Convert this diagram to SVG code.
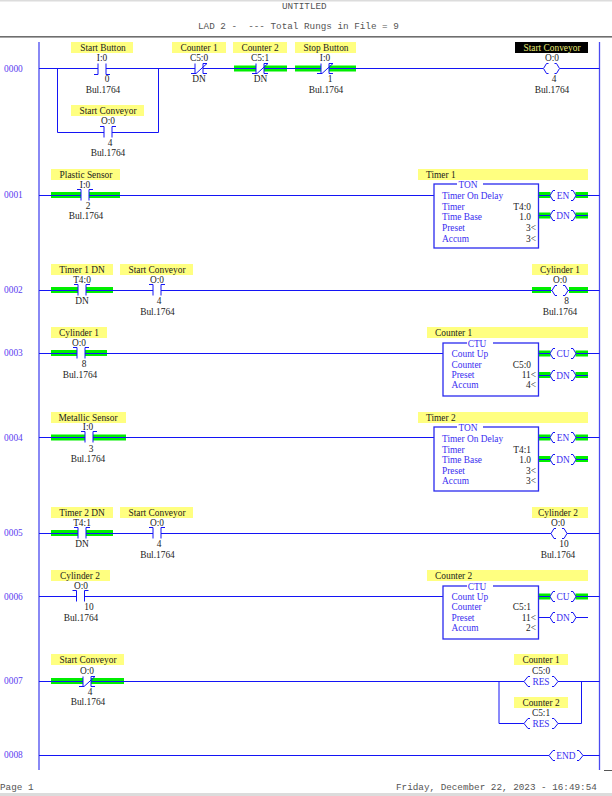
<svg xmlns="http://www.w3.org/2000/svg" width="612" height="796" viewBox="0 0 612 796">
<style>
text{font-family:"Liberation Serif","Times New Roman",serif;font-size:9.4px;fill:#1c1c1c}
.m{text-anchor:middle}
.r{text-anchor:end}
.b{fill:#3a2ef0}
.n{fill:#5a3cf0}
.h{font-family:"Liberation Mono","Courier New",monospace;font-size:9.3px;fill:#555;white-space:pre}
.y{fill:#ffff80}
.g{fill:#00ee00}
.w{fill:none;stroke:#1414f5;stroke-width:1}
.rail{fill:none;stroke:#4a4af0;stroke-width:1.3}
.box{fill:#fff;stroke:#2a2aee;stroke-width:1.3}
</style>
<defs>
<path id="no" class="w" d="M-4-6V5M-4-6H-8M4-6V5M4-6H8"/>
<path id="nob" class="w" d="M-4-5V6M-4 6H-8M4-5V6M4 6H8"/>
<path id="nc" class="w" d="M-4-5V5M-8 5H-3L8-5M4-5V5H8M4-5H8"/>
<path id="coil" class="w" d="M-3-5H-5L-8 0L-5 5H-3M3-5H5L8 0L5 5H3"/>
<path id="coilw" class="w" d="M-8-5H-10L-13 0L-10 5H-8M8-5H10L13 0L10 5H8"/>
</defs>
<rect width="612" height="1.5" fill="#dcdcdc"/>
<rect y="36" width="612" height="1.6" fill="#6e6e6e"/>
<rect y="793" width="612" height="3" fill="#dcdcdc"/>
<text class="h" x="282" y="8.5">UNTITLED</text>
<text class="h" x="198" y="29">LAD 2 -  --- Total Rungs in File = 9</text>
<text class="h" x="0" y="789.500">Page 1</text>
<text class="h" x="396" y="789.500">Friday, December 22, 2023 - 16:49:54</text>

<g id="connectors">
<path class="rail" d="M39 42V770M599.500 42V770"/>
<path d="M604 770.500H612" stroke="#555" fill="none"/>
<g id="power">
<path class="g" d="M234 65.500h22v6h-22zM264 65.500h23v6h-23zM295 65.500h26v6h-26zM329 65.500h27v6h-27z"/>
<path class="g" d="M51 192h30v6h-30zM89 192h31v6h-31zM538.500 192h12v6h-12zM575.500 192h12.500v6h-12.500zM538.500 212.500h12v6h-12zM575.500 212.500h12.500v6h-12.500z"/>
<path class="g" d="M51 287h27v6h-27zM86 287h27v6h-27zM532 287h19v6h-19zM569 287h19v6h-19z"/>
<path class="g" d="M51 350h26v6h-26zM85 350h22v6h-22zM538.500 350.500h12v6h-12zM575.500 350.500h12.500v6h-12.500zM538.500 372h12v6h-12zM575.500 372h12.500v6h-12.500z"/>
<path class="g" d="M51 434.500h34v6h-34zM93 434.500h33v6h-33zM538.500 434.500h12v6h-12zM575.500 434.500h12.500v6h-12.500zM538.500 456h12v6h-12zM575.500 456h12.500v6h-12.500z"/>
<path class="g" d="M51 530h27v6h-27zM86 530h27v6h-27z"/>
<path class="g" d="M538.500 593.500h12v6h-12zM575.500 593.500h12.500v6h-12.500z"/>
<path class="g" d="M51 678h32v6h-32zM91 678h33v6h-33z"/>
</g>
<path class="w" d="M39 68.500H98M106 68.500H195M203 68.500H256M264 68.500H321M329 68.500H543M560 68.500H599.500"/>
<path class="w" d="M57.500 68.500V132.500H104M112 132.500H158.500V68.500"/>
<path class="w" d="M39 195.500H81M89 195.500H434M538.500 195.500H550M576 195.500H599.500M538.500 215.500H550M576 215.500H588"/>
<path class="w" d="M39 290.500H78M86 290.500H153M161 290.500H552M568 290.500H599.500"/>
<path class="w" d="M39 353.500H77M85 353.500H443M538.500 353.500H550M576 353.500H599.500M538.500 375.500H550M576 375.500H588"/>
<path class="w" d="M39 437.500H85M93 437.500H434M538.500 437.500H550M576 437.500H599.500M538.500 459.500H550M576 459.500H588"/>
<path class="w" d="M39 533.500H78M86 533.500H153M161 533.500H551M567 533.500H599.500"/>
<path class="w" d="M39 596.500H76.500M84.500 596.500H443M538.500 596.500H550M576 596.500H599.500M538.500 617.500H550M576 617.500H588"/>
<path class="w" d="M39 681.500H83M91 681.500H524M558 681.500H599.500M499 681.500V723.500H524M558 723.500H581.500V681.500"/>
<path class="w" d="M39 755.500H549M583 755.500H599.500"/>
</g>

<text class="n" x="4" y="71.500">0000</text>
<text class="n" x="4" y="198">0001</text>
<text class="n" x="4" y="293">0002</text>
<text class="n" x="4" y="356">0003</text>
<text class="n" x="4" y="440.500">0004</text>
<text class="n" x="4" y="536">0005</text>
<text class="n" x="4" y="599.500">0006</text>
<text class="n" x="4" y="684">0007</text>
<text class="n" x="4" y="758">0008</text>

<g id="r0-start-button"><rect class="y" x="71" y="42" width="62" height="11"/><text class="m" x="103" y="51">Start Button</text><text class="m" x="102" y="61">I:0</text><use href="#nob" x="102" y="68.500"/><text class="m" x="107" y="82">0</text><text class="m" x="103" y="93">Bul.1764</text></g>
<g id="r0-start-conveyor-branch"><rect class="y" x="71" y="105" width="73" height="11"/><text class="m" x="108" y="114">Start Conveyor</text><text class="m" x="108" y="124">O:0</text><use href="#no" x="108" y="132.500"/><text class="m" x="110" y="146">4</text><text class="m" x="108" y="156">Bul.1764</text></g>
<g id="r0-counter-1"><rect class="y" x="172" y="42" width="54" height="11"/><text class="m" x="199" y="51">Counter 1</text><text class="m" x="199" y="61">C5:0</text><use href="#nc" x="199" y="68.500"/><text class="m" x="199" y="82">DN</text></g>
<g id="r0-counter-2"><rect class="y" x="233" y="42" width="54" height="11"/><text class="m" x="260" y="51">Counter 2</text><text class="m" x="260" y="61">C5:1</text><use href="#nc" x="260" y="68.500"/><text class="m" x="260.500" y="82">DN</text></g>
<g id="r0-stop-button"><rect class="y" x="295" y="42" width="61" height="11"/><text class="m" x="326" y="51">Stop Button</text><text class="m" x="325" y="61">I:0</text><use href="#nc" x="325" y="68.500"/><text class="m" x="330" y="82">1</text><text class="m" x="326" y="93">Bul.1764</text></g>
<g id="r0-coil"><rect x="515" y="42" width="73" height="11" fill="#000"/><text class="m" x="552" y="51" style="fill:#e8e870">Start Conveyor</text><text class="m" x="552" y="61">O:0</text><use href="#coil" x="551.500" y="68.500"/><text class="m" x="554" y="82">4</text><text class="m" x="552" y="93">Bul.1764</text></g>

<g id="r1-plastic-sensor"><rect class="y" x="51" y="169" width="69" height="11"/><text class="m" x="86" y="178">Plastic Sensor</text><text class="m" x="85" y="188">I:0</text><use href="#no" x="85" y="195.500"/><text class="m" x="88" y="209">2</text><text class="m" x="86" y="219">Bul.1764</text></g>
<g id="r1-timer-1"><rect class="y" x="418" y="169" width="170" height="11"/><text x="426" y="178">Timer 1</text><rect class="box" x="434" y="184" width="104.500" height="64"/><rect x="457" y="182" width="26" height="4" fill="#fff"/><text class="m b" x="468" y="188">TON</text><text class="b" x="442" y="198.500">Timer On Delay</text><text class="b" x="442" y="209.500">Timer</text><text class="b" x="442" y="219.500">Time Base</text><text class="b" x="442" y="230.500">Preset</text><text class="b" x="442" y="241.500">Accum</text><text class="r" x="531" y="209.500">T4:0</text><text class="r" x="531" y="219.500">1.0</text><text class="r" x="536" y="230.500">3&lt;</text><text class="r" x="536" y="241.500">3&lt;</text><use href="#coilw" x="563" y="195.500"/><text class="m b" x="563" y="198.500">EN</text><use href="#coilw" x="563" y="215.500"/><text class="m b" x="563" y="219">DN</text></g>

<g id="r2-timer-1-dn"><rect class="y" x="51" y="264" width="62" height="11"/><text class="m" x="82" y="273">Timer 1 DN</text><text class="m" x="82" y="283">T4:0</text><use href="#no" x="82" y="290.500"/><text class="m" x="82" y="304">DN</text></g>
<g id="r2-start-conveyor"><rect class="y" x="120" y="264" width="73" height="11"/><text class="m" x="157" y="273">Start Conveyor</text><text class="m" x="157" y="283">O:0</text><use href="#no" x="157" y="290.500"/><text class="m" x="159" y="304">4</text><text class="m" x="157.500" y="315">Bul.1764</text></g>
<g id="r2-cylinder-1"><rect class="y" x="532" y="264" width="56" height="11"/><text class="m" x="560" y="273">Cylinder 1</text><text class="m" x="560" y="283">O:0</text><use href="#coil" x="560" y="290.500"/><text class="m" x="566.500" y="304">8</text><text class="m" x="560" y="315">Bul.1764</text></g>

<g id="r3-cylinder-1"><rect class="y" x="51" y="327" width="56" height="11"/><text class="m" x="79" y="336">Cylinder 1</text><text class="m" x="79" y="346">O:0</text><use href="#no" x="81" y="353.500"/><text class="m" x="84" y="367">8</text><text class="m" x="80" y="378">Bul.1764</text></g>
<g id="r3-counter-1"><rect class="y" x="427" y="327" width="161" height="11"/><text x="435" y="336">Counter 1</text><rect class="box" x="443" y="343" width="95.500" height="53"/><rect x="467" y="341" width="26" height="4" fill="#fff"/><text class="m b" x="477" y="346.500">CTU</text><text class="b" x="451.500" y="357">Count Up</text><text class="b" x="451.500" y="367.500">Counter</text><text class="b" x="451.500" y="378">Preset</text><text class="b" x="451.500" y="388">Accum</text><text class="r" x="531" y="367.500">C5:0</text><text class="r" x="536" y="378">11&lt;</text><text class="r" x="536" y="388">4&lt;</text><use href="#coilw" x="563" y="353.500"/><text class="m b" x="563" y="357">CU</text><use href="#coilw" x="563" y="375.500"/><text class="m b" x="563" y="378.500">DN</text></g>

<g id="r4-metallic-sensor"><rect class="y" x="51" y="412" width="75" height="11"/><text class="m" x="88" y="421">Metallic Sensor</text><text class="m" x="88" y="430">I:0</text><use href="#no" x="89" y="437.500"/><text class="m" x="91" y="452">3</text><text class="m" x="88" y="462">Bul.1764</text></g>
<g id="r4-timer-2"><rect class="y" x="418" y="412" width="170" height="11"/><text x="426" y="421">Timer 2</text><rect class="box" x="434" y="427" width="104.500" height="64"/><rect x="457" y="425" width="26" height="4" fill="#fff"/><text class="m b" x="468" y="431">TON</text><text class="b" x="442" y="441.500">Timer On Delay</text><text class="b" x="442" y="452.500">Timer</text><text class="b" x="442" y="462.500">Time Base</text><text class="b" x="442" y="473.500">Preset</text><text class="b" x="442" y="483.500">Accum</text><text class="r" x="531" y="452.500">T4:1</text><text class="r" x="531" y="462.500">1.0</text><text class="r" x="536" y="473.500">3&lt;</text><text class="r" x="536" y="483.500">3&lt;</text><use href="#coilw" x="563" y="437.500"/><text class="m b" x="563" y="441">EN</text><use href="#coilw" x="563" y="459.500"/><text class="m b" x="563" y="462.500">DN</text></g>

<g id="r5-timer-2-dn"><rect class="y" x="51" y="507" width="62" height="11"/><text class="m" x="82" y="516">Timer 2 DN</text><text class="m" x="82" y="526">T4:1</text><use href="#no" x="82" y="533.500"/><text class="m" x="82" y="547">DN</text></g>
<g id="r5-start-conveyor"><rect class="y" x="120" y="507" width="73" height="11"/><text class="m" x="157" y="516">Start Conveyor</text><text class="m" x="157" y="526">O:0</text><use href="#no" x="157" y="533.500"/><text class="m" x="159" y="547">4</text><text class="m" x="157.500" y="558">Bul.1764</text></g>
<g id="r5-cylinder-2"><rect class="y" x="532" y="507" width="56" height="11"/><text class="m" x="558" y="516">Cylinder 2</text><text class="m" x="558" y="526">O:0</text><use href="#coil" x="559" y="533.500"/><text class="m" x="564" y="547">10</text><text class="m" x="558" y="558">Bul.1764</text></g>

<g id="r6-cylinder-2"><rect class="y" x="51" y="570" width="59" height="11"/><text class="m" x="80" y="579">Cylinder 2</text><text class="m" x="81" y="589">O:0</text><use href="#no" x="80.500" y="596.500"/><text class="m" x="89" y="610">10</text><text class="m" x="81" y="621">Bul.1764</text></g>
<g id="r6-counter-2"><rect class="y" x="427" y="570" width="161" height="11"/><text x="435" y="579">Counter 2</text><rect class="box" x="443" y="586" width="95.500" height="53"/><rect x="467" y="584" width="26" height="4" fill="#fff"/><text class="m b" x="477" y="589.500">CTU</text><text class="b" x="451.500" y="600">Count Up</text><text class="b" x="451.500" y="610">Counter</text><text class="b" x="451.500" y="621">Preset</text><text class="b" x="451.500" y="631">Accum</text><text class="r" x="531" y="610">C5:1</text><text class="r" x="536" y="621">11&lt;</text><text class="r" x="536" y="631">2&lt;</text><use href="#coilw" x="563" y="596.500"/><text class="m b" x="563" y="600">CU</text><use href="#coilw" x="563" y="617.500"/><text class="m b" x="563" y="621">DN</text></g>

<g id="r7-start-conveyor"><rect class="y" x="51" y="654" width="73" height="11"/><text class="m" x="88" y="663">Start Conveyor</text><text class="m" x="87" y="674">O:0</text><use href="#nc" x="87" y="681.500"/><text class="m" x="90" y="695">4</text><text class="m" x="88" y="705">Bul.1764</text></g>
<g id="r7-counter-1"><rect class="y" x="514" y="654" width="54" height="11"/><text class="m" x="541" y="663">Counter 1</text><text class="m" x="541" y="674">C5:0</text><path class="w" d="M530 676.500H528L524 681.500L528 686.500H530M552 676.500H554L558 681.500L554 686.500H552"/><text class="m b" x="541" y="684.500">RES</text></g>
<g id="r7-counter-2"><rect class="y" x="514" y="697" width="54" height="11"/><text class="m" x="541" y="706">Counter 2</text><text class="m" x="541" y="716">C5:1</text><path class="w" d="M530 718.500H528L524 723.500L528 728.500H530M552 718.500H554L558 723.500L554 728.500H552"/><text class="m b" x="541" y="726.500">RES</text></g>
<g id="r8-end"><path class="w" d="M555 750.500H553L549 755.500L553 760.500H555M577 750.500H579L583 755.500L579 760.500H577"/><text class="m b" x="566" y="758.500">END</text></g>
</svg>
